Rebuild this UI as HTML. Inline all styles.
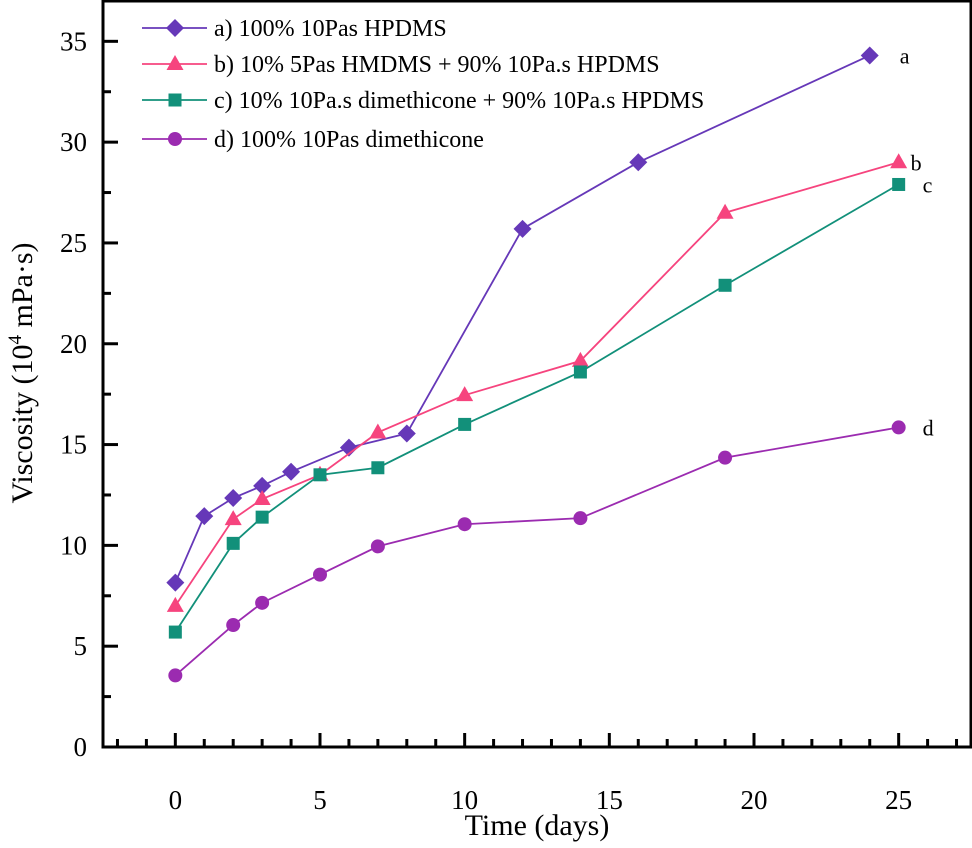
<!DOCTYPE html>
<html><head><meta charset="utf-8"><style>
html,body{margin:0;padding:0;background:#fff;}
svg, svg text{font-family:"Liberation Serif","Times New Roman",Times,serif;}
</style></head><body>
<svg id="chart" width="972" height="843" viewBox="0 0 972 843" xmlns="http://www.w3.org/2000/svg" font-family="Liberation Serif, Times New Roman, serif"></svg>
<script>
const xTicks=[0,5,10,15,20,25];
const yTicks=[0,5,10,15,20,25,30,35];
const seriesNames=["a) 100% 10Pas HPDMS","b) 10% 5Pas HMDMS + 90% 10Pa.s HPDMS","c) 10% 10Pa.s dimethicone + 90% 10Pa.s HPDMS","d) 100% 10Pas dimethicone"];
const endLabels=["a","b","c","d"];
const aX=[0,1,2,3,4,6,8,12,16,24];
const aY=[8.15,11.45,12.35,12.95,13.65,14.85,15.55,25.7,29,34.3];
const bX=[0,2,3,5,7,10,14,19,25];
const bY=[7.0,11.3,12.3,13.5,15.6,17.45,19.15,26.5,29];
const cX=[0,2,3,5,7,10,14,19,25];
const cY=[5.7,10.1,11.4,13.5,13.85,16.0,18.6,22.9,27.9];
const dX=[0,2,3,5,7,10,14,19,25];
const dY=[3.55,6.05,7.15,8.55,9.95,11.05,11.35,14.35,15.85];

const NS="http://www.w3.org/2000/svg";
const FF="Liberation Serif, Times New Roman, serif";
const svg=document.getElementById('chart');
const L=103,R=971,T=1,B=747;
const xMin=-2.5,xMax=27.5,yMin=0,yMax=37;
const sx=v=>L+(v-xMin)/(xMax-xMin)*(R-L);
const sy=v=>B-(v-yMin)/(yMax-yMin)*(B-T);
function mk(tag,attrs,parent){const e=document.createElementNS(NS,tag);for(const k in attrs)e.setAttribute(k,attrs[k]);if(tag==='text')e.setAttribute('font-family',FF);(parent||svg).appendChild(e);return e;}

const frame=mk('rect',{x:L,y:T,width:R-L,height:B-T,fill:'none',stroke:'#000','stroke-width':3});



const xg=mk('g',{});


for(let v=-2;v<=27;v++){
  const major=v%5===0;
  const t=mk('line',{x1:sx(v),x2:sx(v),y1:B,y2:B-(major?14:8),stroke:'#000','stroke-width':3},xg);
  
  
}
xTicks.forEach(v=>{
  const t=mk('text',{x:sx(v),y:809,'font-size':27,'text-anchor':'middle'},xg);
  t.textContent=v;
  
  
});
const yg=mk('g',{});


for(let v=0;v<=35;v+=2.5){
  const major=v%5===0;
  const t=mk('line',{x1:L,x2:L+(major?15:8),y1:sy(v),y2:sy(v),stroke:'#000','stroke-width':3},yg);
  
  
}
yTicks.forEach(v=>{
  const t=mk('text',{x:87,y:sy(v)+9,'font-size':27,'text-anchor':'end'},yg);
  t.textContent=v;
  
  
});
const xt=mk('text',{x:537,y:835,'font-size':30,'text-anchor':'middle'});
xt.textContent='Time (days)';


const yt=mk('text',{x:0,y:0,'font-size':30,'text-anchor':'middle',transform:'translate(32,373) rotate(-90)'});
yt.innerHTML='Viscosity (10<tspan dy="-11" font-size="19">4</tspan><tspan dy="11"> mPa·s)</tspan>';



const colors=['#6638b8','#f6447e','#12907a','#9b2bb0'];
const shapes=['diamond','triangle','square','circle'];
const allX=[aX,bX,cX,dX],allY=[aY,bY,cY,dY];
function marker(g,shape,x,y,c){
  let e;
  if(shape==='diamond')e=mk('polygon',{points:`${x},${y-9} ${x+9},${y} ${x},${y+9} ${x-9},${y}`,fill:c},g);
  else if(shape==='triangle')e=mk('polygon',{points:`${x},${y-9} ${x+8.5},${y+6} ${x-8.5},${y+6}`,fill:c},g);
  else if(shape==='square')e=mk('rect',{x:x-6.5,y:y-6.5,width:13,height:13,fill:c},g);
  else e=mk('circle',{cx:x,cy:y,r:7,fill:c},g);
  return e;
}
const labelDX=[30,12,24,24];
allX.forEach((xs,i)=>{
  const g=mk('g',{});
  
  
  const pts=xs.map((x,j)=>sx(x)+','+sy(allY[i][j])).join(' ');
  const pl=mk('polyline',{points:pts,fill:'none',stroke:colors[i],'stroke-width':1.8},g);
  
  
  xs.forEach((x,j)=>{
    const m=marker(g,shapes[i],sx(x),sy(allY[i][j]),colors[i]);
    
    
  });
  const lx=sx(xs[xs.length-1]),ly=sy(allY[i][allY[i].length-1]);
  const t=mk('text',{x:lx+labelDX[i],y:ly+8,'font-size':22},g);
  t.textContent=endLabels[i];
  
  
});
const leg=mk('g',{});


const legY=[28,64,100,139];
seriesNames.forEach((n,i)=>{
  const g=mk('g',{},leg);
  
  
  mk('line',{x1:142,x2:207,y1:legY[i],y2:legY[i],stroke:colors[i],'stroke-width':1.8},g);
  marker(g,shapes[i],175,legY[i],colors[i]);
  const t=mk('text',{x:214,y:legY[i]+8,'font-size':24},g);
  t.textContent=n;
});
</script>
</body></html>
